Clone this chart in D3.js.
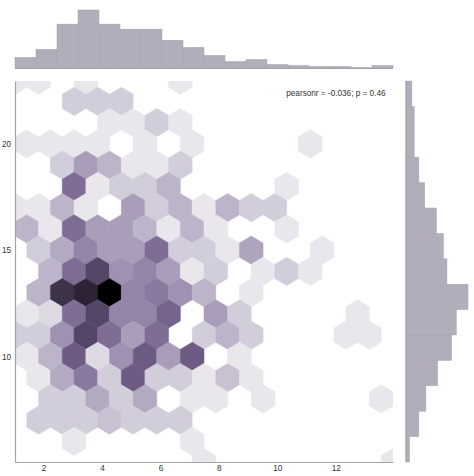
<!DOCTYPE html>
<html><head><meta charset="utf-8">
<script src="https://cdn.jsdelivr.net/npm/d3@7"></script>
<style>html,body{margin:0;padding:0;background:#fff}svg{display:block}text{font-family:"Liberation Sans",Arial,sans-serif;fill:#333}</style>
</head><body><svg id="c" width="474" height="476"></svg>
<script>
const xTicks = [2,4,6,8,10,12];
const yTicks = [10,15,20];
const annotation = "pearsonr = -0.036; p = 0.46";
const hexRowY = [23,22,21,20,19,18,17,16,15,14,13,12,11,10,9,8,7,6,5];
const hexCounts = [
 [1,1,0,1,0,0,0,1,0,0,0,0,0,0,0,0,0],
 [0,0,2,2,2,0,0,0,0,0,0,0,0,0,0,0,0],
 [0,0,0,0,1,1,2,1,0,0,0,0,0,0,0,0,0],
 [1,1,1,1,0,1,0,1,0,0,0,0,1,0,0,0,0],
 [0,0,2,4,3,1,1,2,0,0,0,0,0,0,0,0,0],
 [0,0,6,1,2,2,3,0,0,0,0,1,0,0,0,0,0],
 [1,1,3,1,0,4,2,3,1,3,2,2,0,0,0,0,0],
 [3,1,6,4,4,3,1,3,1,0,0,1,0,0,0,0,0],
 [0,2,3.5,5,4,4,6,2,2,1,3.7,0,0,1,0,0,0],
 [0,3,6,8,4.5,5,4,1,2,0,1,2,1,0,0,0,0],
 [0,3,9,10,12,5,5.5,4.5,3,0,1,0,0,0,0,0,0],
 [1,1.5,6,8,5,5,6.5,0,4,2,0,0,0,0,1,0,0],
 [2,2,4.5,8,6,4,6,0,2,3,2,0,0,0,1,1,0],
 [1,3,7,1.5,4.5,7,4,7,0,1,0,0,0,0,0,0,0],
 [0,1,3.5,5.5,2,7,2,2,1,2.5,1,0,0,0,0,0,0],
 [0,2,2,3.5,2,3.5,0,1,1,0,1,0,0,0,0,1,0],
 [0,2,2,2,2.5,2,2,2,0,0,0,0,0,0,0,0,0],
 [0,0,1,0,0,0,0,1,0,0,0,0,0,0,0,0,0],
 [0,0,0,0,0,0,0,0,1,0,0,0,0,0,0,0,1]
];
const xHistCounts = [11,19,44,58,44,39,39,28,21,13,7,9,4,3,2,2,1,3];
const yHistCounts = [3,11,17,27,39,43,53,35,32,26,16,11,7,7,5];
const shadeLevels = [1,2,3,4,5,6,7,8,9,10,12];
const shadeColors = ["#e9e6ec","#d2cddb","#bdb4c9","#a99db9","#9484a8","#7f6d95","#6e5b84","#554668","#3f3349","#2e2234","#000000"];

const svg = d3.select("#c");
const x = d3.scaleLinear().domain([1.02,13.96]).range([15,393]);
const y = d3.scaleLinear().domain([5.03,22.96]).range([462,81]);
const color = d3.scaleLinear().domain(shadeLevels).range(shadeColors);
const dx = (13.96-1.02)/16;

svg.append("defs").append("clipPath").attr("id","plot").append("rect")
  .attr("x",15).attr("y",81).attr("width",378).attr("height",381);

const line = d3.line();
const cells = [];
hexCounts.forEach((row,i)=>row.forEach((v,k)=>{
  if(!v) return;
  const yv = hexRowY[i];
  const xv = 1.02 + dx*k + (yv%2===0 ? dx/2 : 0);
  cells.push({xv,yv,v});
}));
svg.append("g").attr("clip-path","url(#plot)").selectAll("path").data(cells).join("path")
  .attr("fill",d=>color(d.v)).attr("stroke",d=>color(d.v)).attr("stroke-width",0.5)
  .attr("d",d=>line([[0,2/3],[dx/2,1/3],[dx/2,-1/3],[0,-2/3],[-dx/2,-1/3],[-dx/2,1/3]]
     .map(p=>[x(d.xv+p[0]),y(d.yv+p[1])]))+"Z");

// main axes
const spine="#a3a3a3";
const ax = svg.append("g").attr("transform","translate(0,462)").call(d3.axisBottom(x).tickValues(xTicks).tickSize(0).tickPadding(3));
const ay = svg.append("g").attr("transform","translate(15,0)").call(d3.axisLeft(y).tickValues(yTicks).tickSize(0).tickPadding(4));
[ax,ay].forEach(a=>{a.select(".domain").attr("stroke",spine).attr("stroke-width",1.2);
  a.selectAll("text").attr("font-size",8.2).attr("font-family",'"Liberation Sans",Arial,sans-serif').attr("fill","#333");});

svg.append("text").attr("x",385.5).attr("y",95.5).attr("text-anchor","end").attr("font-size",8.2).text(annotation);

// top marginal
const histFill="#b2adba", histEdge="#a9a4b1";
const xb = d3.scaleLinear().domain([0,xHistCounts.length]).range([15,393]);
const hTop = d3.scaleLinear().domain([0,58]).range([68.5,10]);
svg.append("g").selectAll("rect").data(xHistCounts).join("rect")
  .attr("x",(d,i)=>xb(i)).attr("width",(d,i)=>xb(i+1)-xb(i))
  .attr("y",d=>hTop(d)).attr("height",d=>hTop(0)-hTop(d))
  .attr("fill",histFill).attr("stroke",histEdge).attr("stroke-width",0.5);
svg.append("line").attr("x1",15).attr("x2",393).attr("y1",68.5).attr("y2",68.5).attr("stroke",spine).attr("stroke-width",1.2);

// right marginal
const yb = d3.scaleLinear().domain([0,yHistCounts.length]).range([462,81]);
const hRight = d3.scaleLinear().domain([0,53]).range([406,468]);
svg.append("g").selectAll("rect").data(yHistCounts).join("rect")
  .attr("y",(d,i)=>yb(i+1)).attr("height",(d,i)=>yb(i)-yb(i+1))
  .attr("x",hRight(0)).attr("width",d=>hRight(d)-hRight(0))
  .attr("fill",histFill).attr("stroke",histEdge).attr("stroke-width",0.5);
svg.append("line").attr("x1",406).attr("x2",406).attr("y1",81).attr("y2",462).attr("stroke",spine).attr("stroke-width",1.2);
</script></body></html>
